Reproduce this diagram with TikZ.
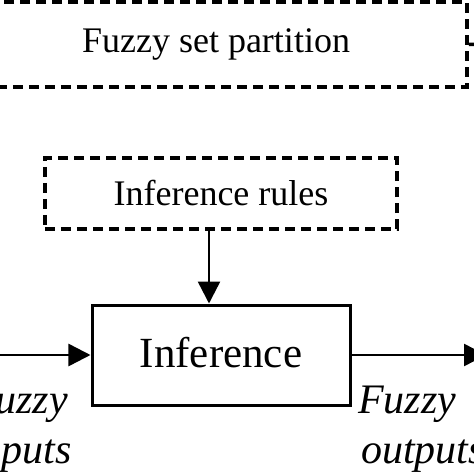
\documentclass[tikz,border=0pt]{standalone}
\usepackage{fontspec}
\setmainfont{Liberation Serif}
\usetikzlibrary{arrows.meta}
\begin{document}
\begin{tikzpicture}[x=1bp,y=-1bp,
  dbox/.style={draw, line width=3.5bp, dash pattern=on 10bp off 6bp, inner sep=0pt,
    font=\fontsize{36bp}{43bp}\selectfont},
  sbox/.style={draw, line width=3bp, inner sep=0pt, font=\fontsize{43bp}{50bp}\selectfont},
  arr/.style={line width=2.5bp, -{Triangle[length=22bp,width=22bp]}},
  lbl/.style={inner sep=0pt, font=\fontsize{42bp}{50bp}\selectfont\itshape},
  dline/.style={line width=3.5bp, dash pattern=on 10bp off 6bp}]
\useasboundingbox (0,0) rectangle (474,474);
\clip (0,0) rectangle (474,474);
\fill[white] (0,0) rectangle (474,474);
\node[dbox, minimum width=502bp, minimum height=85bp] (fsp) at (216,44.5) {Fuzzy set partition};
\node[dbox, minimum width=352bp, minimum height=71bp] (rules) at (221,193.5) {Inference rules};
\node[sbox, minimum width=258bp, minimum height=100bp, text depth=6bp] (inf) at (221,355) {Inference};
\coordinate (inL) at (-20,355);
\coordinate (outR) at (486,355);
\coordinate (fspR) at (495,44);
\draw[dline] (fsp.east) -- (fspR);
\draw[arr] ([xshift=-12bp]rules.south) -- ([xshift=-12bp]inf.north);
\draw[arr] (inL) -- (inf.west);
\draw[arr] (inf.east) -- (outR);
\node[lbl, anchor=base east] (fin1) at (68,413) {Fuzzy};
\node[lbl, anchor=base east] (fin2) at (72,463) {inputs};
\node[lbl, anchor=base west] (fout1) at (358,413) {Fuzzy};
\node[lbl, anchor=base west] (fout2) at (361,463) {outputs};
\end{tikzpicture}
\end{document}
